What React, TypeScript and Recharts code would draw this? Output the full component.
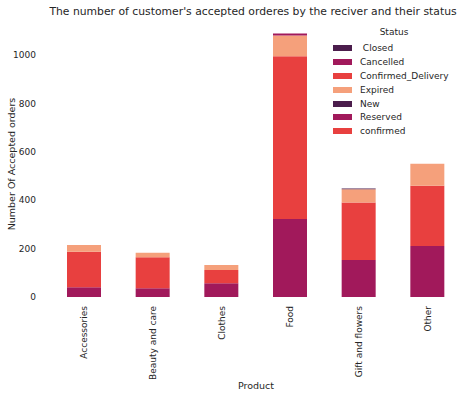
import { BarChart, Bar, XAxis, YAxis } from 'recharts';

const categories = ['Accessories', 'Beauty and care', 'Clothes', 'Food', 'Gift and flowers', 'Other'];

const closed = [0, 0, 0, 0, 0, 0];
const cancelled = [40, 36, 57, 322, 153, 211];
const confirmedDelivery = [147, 128, 55, 672, 237, 248];
const expired = [28, 19, 20, 86, 55, 91];
const newOrders = [0, 0, 0, 0, 3, 0];
const reserved = [0, 0, 0, 8, 0, 0];
const confirmed = [0, 0, 0, 0, 0, 0];

const yTicks = [0, 200, 400, 600, 800, 1000];

const series = [
  { key: 'closed', label: ' Closed', values: closed, color: '#4b1d4c' },
  { key: 'cancelled', label: 'Cancelled', values: cancelled, color: '#a1195b' },
  { key: 'confirmedDelivery', label: 'Confirmed_Delivery', values: confirmedDelivery, color: '#e8403f' },
  { key: 'expired', label: 'Expired', values: expired, color: '#f5a07b' },
  { key: 'newOrders', label: 'New', values: newOrders, color: '#4b1d4c' },
  { key: 'reserved', label: 'Reserved', values: reserved, color: '#a1195b' },
  { key: 'confirmed', label: 'confirmed', values: confirmed, color: '#e8403f' },
];

const data = categories.map((name, i) => {
  const row: Record<string, string | number> = { name };
  series.forEach((s) => (row[s.key] = s.values[i]));
  return row;
});

const FONT = '"DejaVu Sans", sans-serif';
const TEXT = '#262626';

const XTick = (props: any) => {
  const { x, y, payload } = props;
  return (
    <text
      x={x}
      y={y}
      transform={`rotate(-90, ${x}, ${y})`}
      textAnchor="end"
      dominantBaseline="central"
      fontSize={9}
      fontFamily={FONT}
      fill={TEXT}
    >
      {payload.value}
    </text>
  );
};

export default function App() {
  return (
    <div style={{ position: 'absolute', left: 0, top: 0, width: 474, height: 399, background: '#fff', fontFamily: FONT }}>
      <BarChart width={474} height={399} data={data} margin={{ top: 21, right: 12, left: 0, bottom: 0 }}>
        <XAxis
          dataKey="name"
          axisLine={false}
          tickLine={false}
          height={102}
          interval={0}
          tick={<XTick />}
          tickMargin={3}
        />
        <YAxis
          width={50}
          domain={[0, 1140]}
          ticks={yTicks}
          axisLine={false}
          tickLine={false}
          tick={{ fontSize: 9, fill: TEXT, fontFamily: FONT }}
          tickMargin={8}
        />
        {series.map((s) => (
          <Bar key={s.key} dataKey={s.key} stackId="a" fill={s.color} barSize={34} isAnimationActive={false} />
        ))}
      </BarChart>

      <div style={{ position: 'absolute', left: 0, width: 506, top: 5, textAlign: 'center', fontSize: 10.8, color: TEXT, whiteSpace: 'nowrap' }}>
        The number of customer's accepted orderes by the reciver and their status
      </div>
      <div style={{ position: 'absolute', left: 50, width: 412, top: 380, textAlign: 'center', fontSize: 9.5, color: TEXT }}>
        Product
      </div>
      <div
        style={{
          position: 'absolute',
          left: 11,
          top: 164,
          transform: 'translate(-50%, -50%) rotate(-90deg)',
          fontSize: 9.5,
          color: TEXT,
          whiteSpace: 'nowrap',
        }}
      >
        Number Of Accepted orders
      </div>

      <div style={{ position: 'absolute', left: 330, top: 27, fontSize: 9, color: TEXT }}>
        <div style={{ textAlign: 'center', width: 128, height: 14 }}>Status</div>
        {series.map((s) => (
          <div key={s.key} style={{ display: 'flex', alignItems: 'center', height: 13.9, whiteSpace: 'pre' }}>
            <span style={{ display: 'inline-block', width: 19, height: 6, background: s.color, marginLeft: 3, marginRight: 8 }} />
            <span>{s.label}</span>
          </div>
        ))}
      </div>
    </div>
  );
}
